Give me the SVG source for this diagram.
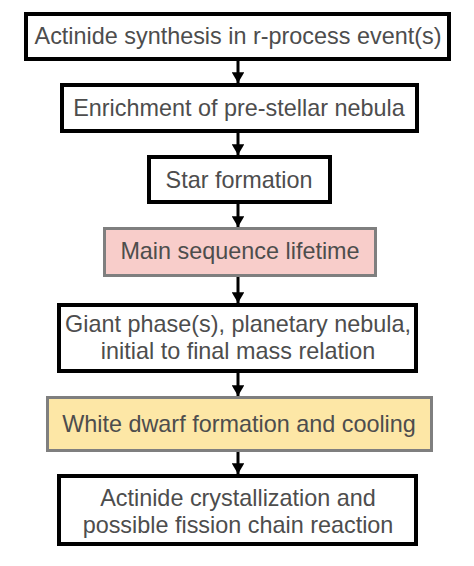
<svg xmlns="http://www.w3.org/2000/svg" width="474" height="566" viewBox="0 0 474 566">
<defs>
<style>
.box{fill:#ffffff;stroke:#000000;stroke-width:4}
.pink{fill:#f8cdca;stroke:#7f7f7f;stroke-width:3}
.yellow{fill:#fde7a6;stroke:#7f7f7f;stroke-width:3}
text{font-family:"Liberation Sans",Arial,sans-serif;font-size:23.4px;fill:#4d4d4d;text-anchor:middle}
.conn{stroke:#000000;stroke-width:3;fill:none;marker-end:url(#ah)}
</style>
<marker id="ah" markerWidth="4.2" markerHeight="4.2" refX="3.6" refY="2.1" orient="auto" markerUnits="strokeWidth">
<path d="M0,0 L3.6,2.1 L0,4.2 Z" fill="#000000"/>
</marker>
</defs>
<rect width="474" height="566" fill="#ffffff"/>
<g id="connectors">
<line class="conn" x1="238" y1="61" x2="238" y2="83"/>
<line class="conn" x1="238" y1="133" x2="238" y2="155"/>
<line class="conn" x1="238" y1="204" x2="238" y2="227"/>
<line class="conn" x1="238" y1="277" x2="238" y2="303"/>
<line class="conn" x1="238" y1="373" x2="238" y2="396"/>
<line class="conn" x1="238" y1="452" x2="238" y2="474"/>
</g>
<g id="n1">
<rect class="box" x="26" y="14" width="423" height="45"/>
<text x="238" y="44">Actinide synthesis in r-process event(s)</text>
</g>
<g id="n2">
<rect class="box" x="62" y="85" width="355" height="46"/>
<text x="239" y="116">Enrichment of pre-stellar nebula</text>
</g>
<g id="n3">
<rect class="box" x="149" y="157" width="181" height="45"/>
<text x="239" y="188">Star formation</text>
</g>
<g id="n4">
<rect class="pink" x="104.5" y="228.5" width="271" height="47"/>
<text x="240" y="259">Main sequence lifetime</text>
</g>
<g id="n5">
<rect class="box" x="59" y="305" width="357" height="66"/>
<text x="238" y="332">Giant phase(s), planetary nebula,</text>
<text x="238" y="359">initial to final mass relation</text>
</g>
<g id="n6">
<rect class="yellow" x="47.5" y="397.5" width="384" height="53"/>
<text x="239" y="432">White dwarf formation and cooling</text>
</g>
<g id="n7">
<rect class="box" x="59" y="476" width="357" height="68"/>
<text x="238" y="506">Actinide crystallization and</text>
<text x="238" y="533">possible fission chain reaction</text>
</g>
</svg>
